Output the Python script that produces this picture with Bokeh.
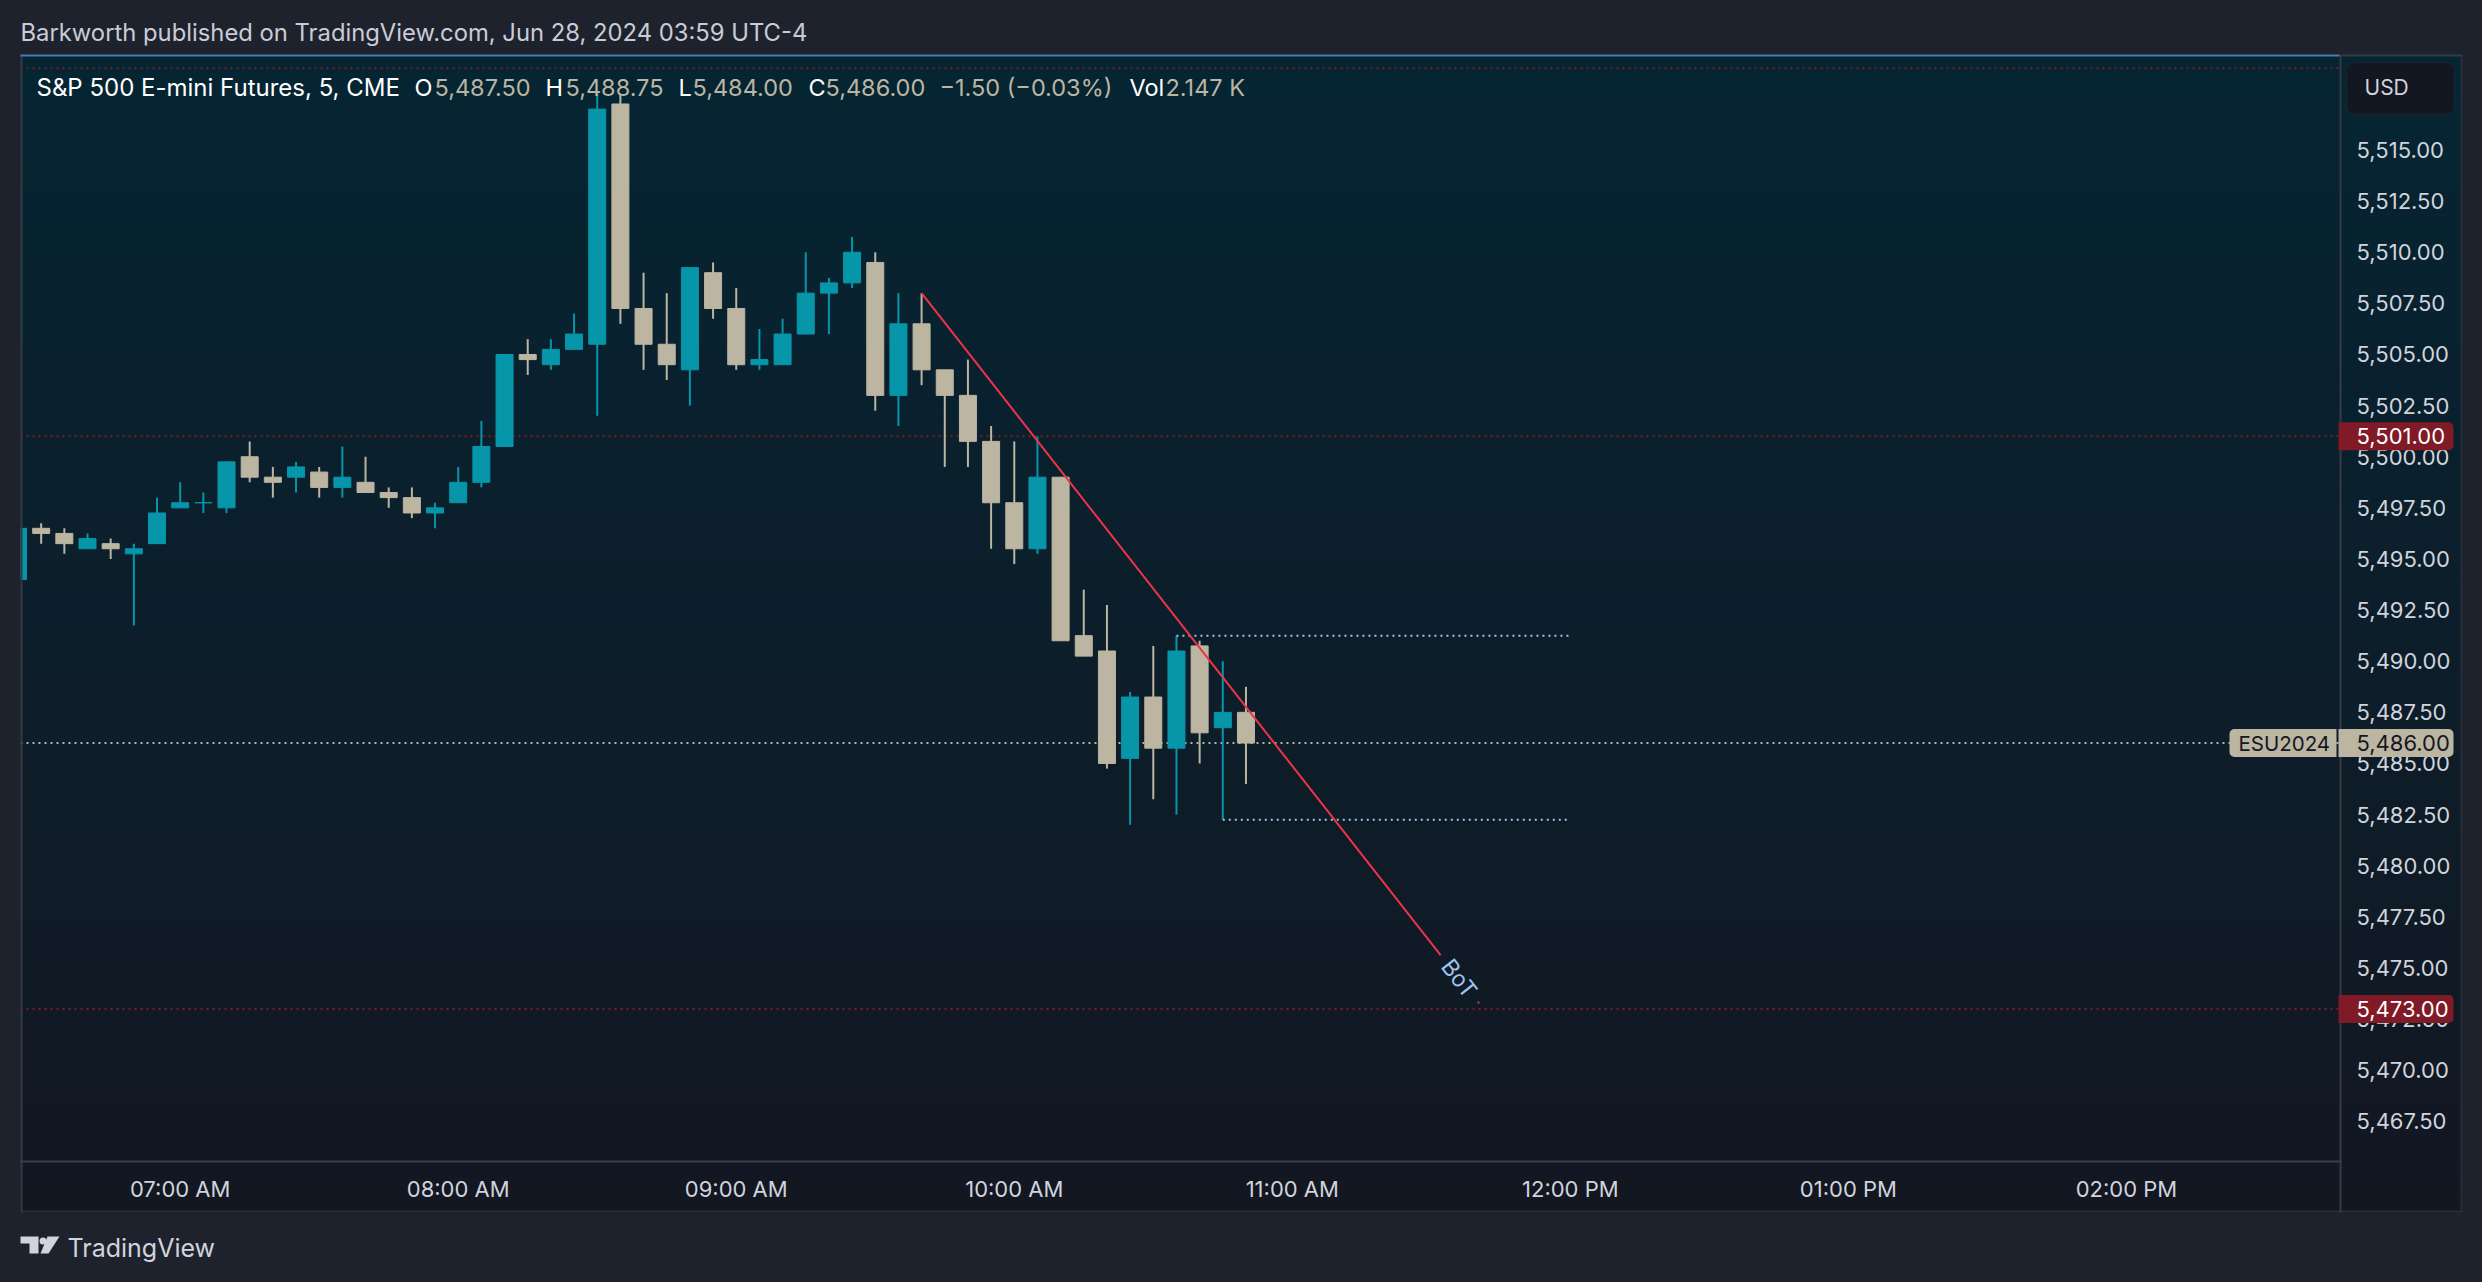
from bokeh.core.properties import value
from bokeh.embed import file_html
from bokeh.models import (BoxAnnotation, ColumnDataSource, FixedTicker, GlobalInlineStyleSheet,
                          Label, LinearAxis, NumeralTickFormatter, PolyAnnotation)
from bokeh.plotting import figure
from bokeh.resources import INLINE

# 5 minute bars, first one is 06:25
opens = [5494.00, 5496.50, 5496.25, 5495.50, 5495.75, 5495.25, 5495.75, 5497.50, 5497.75, 5497.50,
         5500.00, 5499.00, 5499.00, 5499.25, 5498.50, 5498.75, 5498.25, 5498.00, 5497.25, 5497.75,
         5498.75, 5500.50, 5505.00, 5504.50, 5505.25, 5505.50, 5517.25, 5507.25, 5505.50, 5504.25,
         5509.00, 5507.25, 5504.50, 5504.50, 5506.00, 5508.00, 5508.50, 5509.50, 5503.00, 5506.50,
         5504.25, 5503.00, 5500.75, 5497.75, 5495.50, 5499.00, 5491.25, 5490.50, 5485.25, 5488.25,
         5485.75, 5490.75, 5486.75, 5487.50]
highs = [5496.50, 5496.75, 5496.50, 5496.25, 5496.00, 5495.75, 5498.00, 5498.75, 5498.25, 5499.75,
         5500.75, 5499.50, 5499.75, 5499.50, 5500.50, 5500.00, 5498.50, 5498.50, 5497.75, 5499.50,
         5501.75, 5505.00, 5505.75, 5505.75, 5507.00, 5517.75, 5517.75, 5509.00, 5508.00, 5509.25,
         5509.50, 5508.25, 5506.25, 5506.75, 5510.00, 5508.75, 5510.75, 5510.00, 5508.00, 5508.00,
         5504.25, 5504.75, 5501.50, 5500.75, 5501.00, 5499.00, 5493.50, 5492.75, 5488.50, 5490.75,
         5491.25, 5491.00, 5490.00, 5488.75]
lows = [5494.00, 5495.75, 5495.25, 5495.50, 5495.00, 5491.75, 5495.75, 5497.50, 5497.25, 5497.25,
        5498.75, 5498.00, 5498.25, 5498.00, 5498.00, 5498.25, 5497.50, 5497.00, 5496.50, 5497.75,
        5498.50, 5500.50, 5504.00, 5504.25, 5505.25, 5502.00, 5506.50, 5504.25, 5503.75, 5502.50,
        5506.75, 5504.25, 5504.25, 5504.50, 5506.00, 5506.00, 5508.25, 5502.25, 5501.50, 5503.50,
        5499.50, 5499.50, 5495.50, 5494.75, 5495.25, 5491.00, 5490.25, 5484.75, 5482.00, 5483.25,
        5482.50, 5485.00, 5482.25, 5484.00]
closes = [5496.50, 5496.25, 5495.75, 5496.00, 5495.50, 5495.50, 5497.25, 5497.75, 5497.75, 5499.75,
          5499.00, 5498.75, 5499.50, 5498.50, 5499.00, 5498.25, 5498.00, 5497.25, 5497.50, 5498.75,
          5500.50, 5505.00, 5504.75, 5505.25, 5506.00, 5517.00, 5507.25, 5505.50, 5504.50, 5509.25,
          5507.25, 5504.50, 5504.75, 5506.00, 5508.00, 5508.50, 5510.00, 5503.00, 5506.50, 5504.25,
          5503.00, 5500.75, 5497.75, 5495.50, 5499.00, 5491.00, 5490.25, 5485.00, 5488.25, 5485.75,
          5490.50, 5486.50, 5487.50, 5486.00]

price_ticks = [5515.0, 5512.5, 5510.0, 5507.5, 5505.0, 5502.5, 5500.0, 5497.5, 5495.0, 5492.5,
               5490.0, 5487.5, 5485.0, 5482.5, 5480.0, 5477.5, 5475.0, 5472.5, 5470.0, 5467.5]
time_tick_bars = [7, 19, 31, 43, 55, 67, 79, 91]
time_tick_labels = ["07:00 AM", "08:00 AM", "09:00 AM", "10:00 AM", "11:00 AM", "12:00 PM", "01:00 PM", "02:00 PM"]

red_levels = [5519.0, 5501.0, 5473.0]
last_price = 5486.0
range_high_x, range_high_y = [50, 67], [5491.25, 5491.25]
range_low_x, range_low_y = [52, 67], [5482.25, 5482.25]
trend_x, trend_y = [39, 61.4], [5508.0, 5475.63]

# where the scales sit, in bars and prices
pane_left, pane_right, pane_bottom = 0.108, 100.2, 5465.54

TEAL = "#0795a9"
TAN = "#bcb5a1"
RED = "#ee3348"
DARK_RED = "#7f1a26"
BLUE = "#9cc4ee"
TEXT = "#d1d4dc"
OUTER = "#1e222d"
LINE = "#363a45"
FONT = "Inter"

colors = [TEAL if c >= o else TAN for o, c in zip(opens, closes)]
source = ColumnDataSource(dict(
    bar=list(range(len(opens))),
    top=[max(o, c) for o, c in zip(opens, closes)],
    bottom=[min(o, c) for o, c in zip(opens, closes)],
    high=highs, low=lows, color=colors,
))

# the frame fills the whole page, annotations get clipped to it otherwise
p = figure(width=2482, height=1282, x_range=(-0.7553, 106.37), y_range=(5459.62, 5522.31),
           output_backend="svg", toolbar_location=None,
           min_border_left=0, min_border_right=0, min_border_top=0, min_border_bottom=0)
p.stylesheets = [GlobalInlineStyleSheet(css="html, body { background: #1e222d; }")]
p.background_fill_color = OUTER
p.border_fill_color = OUTER
p.outline_line_color = None
p.grid.visible = False
p.xaxis.visible = False
p.yaxis.visible = False


# everything around the chart is placed in picture pixels
def box(left, right, top, bottom, color, level="annotation", **kw):
    b = BoxAnnotation(left=left, right=right, top=top, bottom=bottom,
                      left_units="canvas", right_units="canvas", top_units="canvas", bottom_units="canvas",
                      fill_color=color, fill_alpha=1, line_color=kw.pop("line_color", None), level=level, **kw)
    p.add_layout(b)
    return b


def label(x, y, text, color=TEXT, size=22, align="left", level="annotation", **kw):
    p.add_layout(Label(x=x, y=y, x_units="canvas", y_units="canvas", text=text, text_color=color,
                       text_font=FONT, text_font_size=f"{size}px", text_align=align,
                       text_baseline="middle", level=level, **kw))


# background gradient of chart and scales, each slice runs down to the bottom so no seams show
top_rgb, bottom_rgb = (5, 37, 51), (19, 23, 34)
slices = 96
for n in range(slices):
    t = n / (slices - 1)
    rgb = [round(a + (b - a) * t) for a, b in zip(top_rgb, bottom_rgb)]
    y0 = 54 + (1212 - 54) * n / slices
    box(20, 2462, y0, 1212, "#%02x%02x%02x" % tuple(rgb), level="underlay")

# price and time scales
yaxis = LinearAxis(ticker=FixedTicker(ticks=price_ticks), formatter=NumeralTickFormatter(format="0,0.00"),
                   fixed_location=pane_right)
xaxis = LinearAxis(ticker=FixedTicker(ticks=time_tick_bars),
                   major_label_overrides=dict(zip(time_tick_bars, time_tick_labels)),
                   fixed_location=pane_bottom)
for axis in (xaxis, yaxis):
    axis.axis_line_color = None
    axis.major_tick_line_color = None
    axis.major_tick_out = 0
    axis.minor_tick_line_color = None
    axis.major_label_text_color = TEXT
    axis.major_label_text_font = FONT
    axis.major_label_text_font_size = "22px"
yaxis.major_label_standoff = 17
xaxis.major_label_standoff = 15
p.add_layout(yaxis, "right")
p.add_layout(xaxis, "below")

for level_price in red_levels:
    p.line([pane_left, pane_right], [level_price, level_price], line_color=DARK_RED, line_width=2, line_dash="2 4")
p.line([pane_left, pane_right], [last_price, last_price], line_color=TAN, line_width=2, line_dash="2 4")

# candles
p.segment("bar", "high", "bar", "low", source=source, line_color="color", line_width=2)
p.vbar("bar", 0.734, "top", "bottom", source=source, fill_color="color", line_color="color", line_width=1)

p.line(range_high_x, range_high_y, line_color=BLUE, line_width=2, line_dash="2 4")
p.line(range_low_x, range_low_y, line_color=BLUE, line_width=2, line_dash="2 4")
p.line(trend_x, trend_y, line_color=RED, line_width=2)
p.text([62.2], [5474.49], text=["BoT"], angle=-0.904, text_color=BLUE, text_align="center",
       text_baseline="middle", text_font=value(FONT), text_font_size="23px")
box(1477, 1479, 1001, 1003, RED)

# the first candle is cut off by the chart edge
box(0, 20, 54, 1212, OUTER)

# borders
box(20, 22, 54, 1212, LINE)
box(2460, 2462, 54, 1212, "#2a2e39")
box(20, 2462, 1210, 1212, "#2a2e39")
box(2339, 2341, 54, 1212, LINE)
box(20, 2341, 1160, 1162, "#3a3e4a")
box(2339, 2462, 54, 56, LINE)
box(20, 2339, 54, 56, "#4a7ab8")

# title and legend
label(20, 32, "Barkworth published on TradingView.com, Jun 28, 2024 03:59 UTC-4", color="#c9ccd6", size=23.8)
legend_y = 87
label(36, legend_y, "S&P 500 E-mini Futures, 5, CME", color="#ffffff", size=24)
label(414, legend_y, "O", color="#ffffff", size=23.5)
label(434, legend_y, "5,487.50", color=TAN, size=23.5)
label(545, legend_y, "H", color="#ffffff", size=23.5)
label(565, legend_y, "5,488.75", color=TAN, size=23.5)
label(678, legend_y, "L", color="#ffffff", size=23.5)
label(692, legend_y, "5,484.00", color=TAN, size=23.5)
label(808, legend_y, "C", color="#ffffff", size=23.5)
label(825, legend_y, "5,486.00", color=TAN, size=23.5)
label(939, legend_y, "\u22121.50 (\u22120.03%)", color=TAN, size=23.5)
label(1129, legend_y, "Vol", color="#ffffff", size=23.5)
label(1165, legend_y, "2.147 K", color=TAN, size=23.5)

# currency button
box(2346, 2454, 62, 114, "#131722", line_color="#2a2e39", line_width=2, border_radius=8)
label(2364, 87, "USD", size=21)

# price tags
y_of = lambda v: 149.5 + (5515 - v) * 20.45
for tag_price, tag_text in zip(red_levels[1:], ["5,501.00", "5,473.00"]):
    box(2338, 2453, y_of(tag_price) - 14, y_of(tag_price) + 14, DARK_RED, border_radius=(0, 5, 5, 0))
    label(2356, y_of(tag_price), tag_text, color="#ffffff", size=22)
box(2229, 2336, y_of(last_price) - 14, y_of(last_price) + 14, TAN, border_radius=(5, 0, 0, 5))
box(2338, 2453, y_of(last_price) - 14, y_of(last_price) + 14, TAN, border_radius=(0, 5, 5, 0))
label(2238, y_of(last_price), "ESU2024", color="#131722", size=20.5)
label(2356, y_of(last_price), "5,486.00", color="#131722", size=22)

# TradingView mark
for xs, ys in [([20, 38, 38, 29, 29, 20], [1236, 1236, 1253, 1253, 1243, 1243]),
               ([47, 59, 48, 40], [1236, 1236, 1253, 1253])]:
    p.add_layout(PolyAnnotation(xs=xs, ys=ys, xs_units="canvas", ys_units="canvas",
                                fill_color=TEXT, fill_alpha=1, line_color=None))
box(39, 46, 1237, 1244, TEXT, border_radius=4)
label(67, 1247, "TradingView", color=TEXT, size=25)

open("out.html", "w").write(file_html(p, INLINE))
